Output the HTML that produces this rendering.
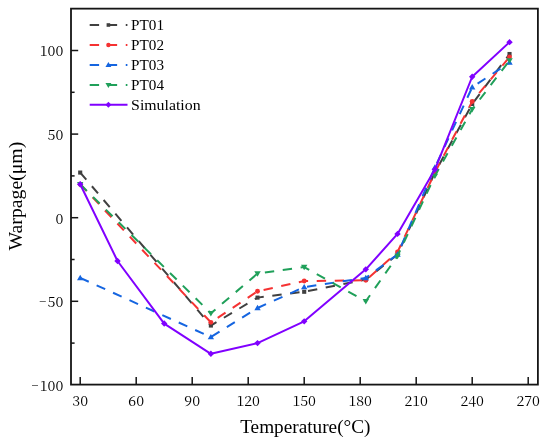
<!DOCTYPE html>
<html><head><meta charset="utf-8"><title>chart</title>
<style>
html,body{margin:0;padding:0;background:#fff;}
svg{display:block}
text{font-family:"Liberation Serif","Noto Serif CJK SC",serif;fill:#000}
.tk{font-size:14.3px;font-family:"Noto Serif CJK SC","Liberation Serif",serif;fill:#000}
.lg{font-size:15.6px}
.ti{font-size:18.6px}
</style></head><body>
<svg width="550" height="445" viewBox="0 0 550 445">
<rect width="550" height="445" fill="#fff"/>
<polyline points="80.20,172.56 210.87,325.54 257.53,297.62 304.20,291.77 365.80,279.56 397.53,254.48 434.87,172.56 472.20,104.00 509.53,54.01" fill="none" stroke="#404040" stroke-width="2.0" stroke-linejoin="round" stroke-dasharray="9.4 8.63"/>
<rect x="78.15" y="170.51" width="4.10" height="4.10" fill="#404040"/>
<rect x="208.82" y="323.49" width="4.10" height="4.10" fill="#404040"/>
<rect x="255.48" y="295.57" width="4.10" height="4.10" fill="#404040"/>
<rect x="302.15" y="289.72" width="4.10" height="4.10" fill="#404040"/>
<rect x="363.75" y="277.51" width="4.10" height="4.10" fill="#404040"/>
<rect x="395.48" y="252.43" width="4.10" height="4.10" fill="#404040"/>
<rect x="432.82" y="170.51" width="4.10" height="4.10" fill="#404040"/>
<rect x="470.15" y="101.95" width="4.10" height="4.10" fill="#404040"/>
<rect x="507.48" y="51.96" width="4.10" height="4.10" fill="#404040"/>
<polyline points="80.20,184.26 210.87,322.37 257.53,291.27 304.20,281.07 365.80,280.23 397.53,251.98 434.87,172.56 472.20,101.50 509.53,57.02" fill="none" stroke="#f53232" stroke-width="2.0" stroke-linejoin="round" stroke-dasharray="9.4 8.63"/>
<circle cx="80.20" cy="184.26" r="2.45" fill="#f53232"/>
<circle cx="210.87" cy="322.37" r="2.45" fill="#f53232"/>
<circle cx="257.53" cy="291.27" r="2.45" fill="#f53232"/>
<circle cx="304.20" cy="281.07" r="2.45" fill="#f53232"/>
<circle cx="365.80" cy="280.23" r="2.45" fill="#f53232"/>
<circle cx="397.53" cy="251.98" r="2.45" fill="#f53232"/>
<circle cx="434.87" cy="172.56" r="2.45" fill="#f53232"/>
<circle cx="472.20" cy="101.50" r="2.45" fill="#f53232"/>
<circle cx="509.53" cy="57.02" r="2.45" fill="#f53232"/>
<polyline points="80.20,277.89 210.87,337.08 257.53,307.99 304.20,287.09 365.80,277.89 397.53,254.48 434.87,167.54 472.20,87.28 509.53,62.54" fill="none" stroke="#1565e0" stroke-width="2.0" stroke-linejoin="round" stroke-dasharray="9.4 8.63"/>
<polygon points="80.20,274.69 83.40,280.13 77.00,280.13" fill="#1565e0"/>
<polygon points="210.87,333.88 214.07,339.32 207.67,339.32" fill="#1565e0"/>
<polygon points="257.53,304.79 260.73,310.23 254.33,310.23" fill="#1565e0"/>
<polygon points="304.20,283.89 307.40,289.33 301.00,289.33" fill="#1565e0"/>
<polygon points="365.80,274.69 369.00,280.13 362.60,280.13" fill="#1565e0"/>
<polygon points="397.53,251.28 400.73,256.72 394.33,256.72" fill="#1565e0"/>
<polygon points="434.87,164.34 438.07,169.78 431.67,169.78" fill="#1565e0"/>
<polygon points="472.20,84.08 475.40,89.52 469.00,89.52" fill="#1565e0"/>
<polygon points="509.53,59.34 512.73,64.78 506.33,64.78" fill="#1565e0"/>
<polyline points="80.20,184.26 210.87,313.34 257.53,273.54 304.20,267.02 365.80,301.30 397.53,255.99 434.87,175.90 472.20,109.35 509.53,60.53" fill="none" stroke="#20a05a" stroke-width="2.0" stroke-linejoin="round" stroke-dasharray="9.4 8.63"/>
<polygon points="80.20,187.46 83.40,182.02 77.00,182.02" fill="#20a05a"/>
<polygon points="210.87,316.54 214.07,311.10 207.67,311.10" fill="#20a05a"/>
<polygon points="257.53,276.74 260.73,271.30 254.33,271.30" fill="#20a05a"/>
<polygon points="304.20,270.22 307.40,264.78 301.00,264.78" fill="#20a05a"/>
<polygon points="365.80,304.50 369.00,299.06 362.60,299.06" fill="#20a05a"/>
<polygon points="397.53,259.19 400.73,253.75 394.33,253.75" fill="#20a05a"/>
<polygon points="434.87,179.10 438.07,173.66 431.67,173.66" fill="#20a05a"/>
<polygon points="472.20,112.55 475.40,107.11 469.00,107.11" fill="#20a05a"/>
<polygon points="509.53,63.73 512.73,58.29 506.33,58.29" fill="#20a05a"/>
<polyline points="80.20,184.26 117.53,261.00 164.20,323.54 210.87,353.80 257.53,343.10 304.20,321.36 365.80,269.36 397.53,233.92 434.87,169.55 472.20,76.75 509.53,42.14" fill="none" stroke="#8000ff" stroke-width="2.0" stroke-linejoin="round"/>
<polygon points="80.20,181.06 83.40,184.26 80.20,187.46 77.00,184.26" fill="#8000ff"/>
<polygon points="117.53,257.80 120.73,261.00 117.53,264.20 114.33,261.00" fill="#8000ff"/>
<polygon points="164.20,320.34 167.40,323.54 164.20,326.74 161.00,323.54" fill="#8000ff"/>
<polygon points="210.87,350.60 214.07,353.80 210.87,357.00 207.67,353.80" fill="#8000ff"/>
<polygon points="257.53,339.90 260.73,343.10 257.53,346.30 254.33,343.10" fill="#8000ff"/>
<polygon points="304.20,318.16 307.40,321.36 304.20,324.56 301.00,321.36" fill="#8000ff"/>
<polygon points="365.80,266.16 369.00,269.36 365.80,272.56 362.60,269.36" fill="#8000ff"/>
<polygon points="397.53,230.72 400.73,233.92 397.53,237.12 394.33,233.92" fill="#8000ff"/>
<polygon points="434.87,166.35 438.07,169.55 434.87,172.75 431.67,169.55" fill="#8000ff"/>
<polygon points="472.20,73.55 475.40,76.75 472.20,79.95 469.00,76.75" fill="#8000ff"/>
<polygon points="509.53,38.94 512.73,42.14 509.53,45.34 506.33,42.14" fill="#8000ff"/>
<rect x="71.0" y="8.65" width="466.9" height="375.95000000000005" fill="none" stroke="#151515" stroke-width="1.8"/>
<line x1="80.20" y1="384.6" x2="80.20" y2="377.1" stroke="#151515" stroke-width="1.5"/>
<text x="80.20" y="406.1" text-anchor="middle" class="tk">30</text>
<line x1="136.20" y1="384.6" x2="136.20" y2="377.1" stroke="#151515" stroke-width="1.5"/>
<text x="136.20" y="406.1" text-anchor="middle" class="tk">60</text>
<line x1="192.20" y1="384.6" x2="192.20" y2="377.1" stroke="#151515" stroke-width="1.5"/>
<text x="192.20" y="406.1" text-anchor="middle" class="tk">90</text>
<line x1="248.20" y1="384.6" x2="248.20" y2="377.1" stroke="#151515" stroke-width="1.5"/>
<text x="248.20" y="406.1" text-anchor="middle" class="tk">120</text>
<line x1="304.20" y1="384.6" x2="304.20" y2="377.1" stroke="#151515" stroke-width="1.5"/>
<text x="304.20" y="406.1" text-anchor="middle" class="tk">150</text>
<line x1="360.20" y1="384.6" x2="360.20" y2="377.1" stroke="#151515" stroke-width="1.5"/>
<text x="360.20" y="406.1" text-anchor="middle" class="tk">180</text>
<line x1="416.20" y1="384.6" x2="416.20" y2="377.1" stroke="#151515" stroke-width="1.5"/>
<text x="416.20" y="406.1" text-anchor="middle" class="tk">210</text>
<line x1="472.20" y1="384.6" x2="472.20" y2="377.1" stroke="#151515" stroke-width="1.5"/>
<text x="472.20" y="406.1" text-anchor="middle" class="tk">240</text>
<line x1="528.20" y1="384.6" x2="528.20" y2="377.1" stroke="#151515" stroke-width="1.5"/>
<text x="528.20" y="406.1" text-anchor="middle" class="tk">270</text>
<text x="63.3" y="390.70" text-anchor="end" class="tk">100</text>
<text x="31.4" y="390.70" class="tk" textLength="7" lengthAdjust="spacingAndGlyphs">−</text>
<line x1="71.0" y1="343.10" x2="74.6" y2="343.10" stroke="#151515" stroke-width="1.5"/>
<line x1="71.0" y1="301.30" x2="78.2" y2="301.30" stroke="#151515" stroke-width="1.5"/>
<text x="63.3" y="307.10" text-anchor="end" class="tk">50</text>
<text x="39.3" y="307.10" class="tk" textLength="7" lengthAdjust="spacingAndGlyphs">−</text>
<line x1="71.0" y1="259.50" x2="74.6" y2="259.50" stroke="#151515" stroke-width="1.5"/>
<line x1="71.0" y1="217.70" x2="78.2" y2="217.70" stroke="#151515" stroke-width="1.5"/>
<text x="63.3" y="223.50" text-anchor="end" class="tk">0</text>
<line x1="71.0" y1="175.90" x2="74.6" y2="175.90" stroke="#151515" stroke-width="1.5"/>
<line x1="71.0" y1="134.10" x2="78.2" y2="134.10" stroke="#151515" stroke-width="1.5"/>
<text x="63.3" y="139.90" text-anchor="end" class="tk">50</text>
<line x1="71.0" y1="92.30" x2="74.6" y2="92.30" stroke="#151515" stroke-width="1.5"/>
<line x1="71.0" y1="50.50" x2="78.2" y2="50.50" stroke="#151515" stroke-width="1.5"/>
<text x="63.3" y="56.30" text-anchor="end" class="tk">100</text>
<line x1="89.7" y1="25.0" x2="127.4" y2="25.0" stroke="#404040" stroke-width="2.0" stroke-dasharray="9.4 8.63"/>
<rect x="106.60" y="23.20" width="3.60" height="3.60" fill="#404040"/>
<text x="131.1" y="30.10" class="lg" textLength="32.9" lengthAdjust="spacingAndGlyphs">PT01</text>
<line x1="89.7" y1="45.0" x2="127.4" y2="45.0" stroke="#f53232" stroke-width="2.0" stroke-dasharray="9.4 8.63"/>
<circle cx="108.40" cy="45.00" r="2.20" fill="#f53232"/>
<text x="131.1" y="50.00" class="lg" textLength="32.9" lengthAdjust="spacingAndGlyphs">PT02</text>
<line x1="89.7" y1="65.0" x2="127.4" y2="65.0" stroke="#1565e0" stroke-width="2.0" stroke-dasharray="9.4 8.63"/>
<polygon points="108.40,62.05 111.35,67.06 105.45,67.06" fill="#1565e0"/>
<text x="131.1" y="69.90" class="lg" textLength="32.9" lengthAdjust="spacingAndGlyphs">PT03</text>
<line x1="89.7" y1="85.0" x2="127.4" y2="85.0" stroke="#20a05a" stroke-width="2.0" stroke-dasharray="9.4 8.63"/>
<polygon points="108.40,87.95 111.35,82.94 105.45,82.94" fill="#20a05a"/>
<text x="131.1" y="89.75" class="lg" textLength="32.9" lengthAdjust="spacingAndGlyphs">PT04</text>
<line x1="89.7" y1="104.75" x2="127.5" y2="104.75" stroke="#8000ff" stroke-width="2.0"/>
<polygon points="108.40,101.80 111.35,104.75 108.40,107.70 105.45,104.75" fill="#8000ff"/>
<text x="131.1" y="109.60" class="lg" textLength="69.5" lengthAdjust="spacingAndGlyphs">Simulation</text>
<text x="240.2" y="432.6" class="ti" textLength="130.3" lengthAdjust="spacingAndGlyphs">Temperature(°C)</text>
<text transform="translate(21.9,250.5) rotate(-90)" class="ti" textLength="108.8" lengthAdjust="spacingAndGlyphs">Warpage(μm)</text>
</svg>
</body></html>
